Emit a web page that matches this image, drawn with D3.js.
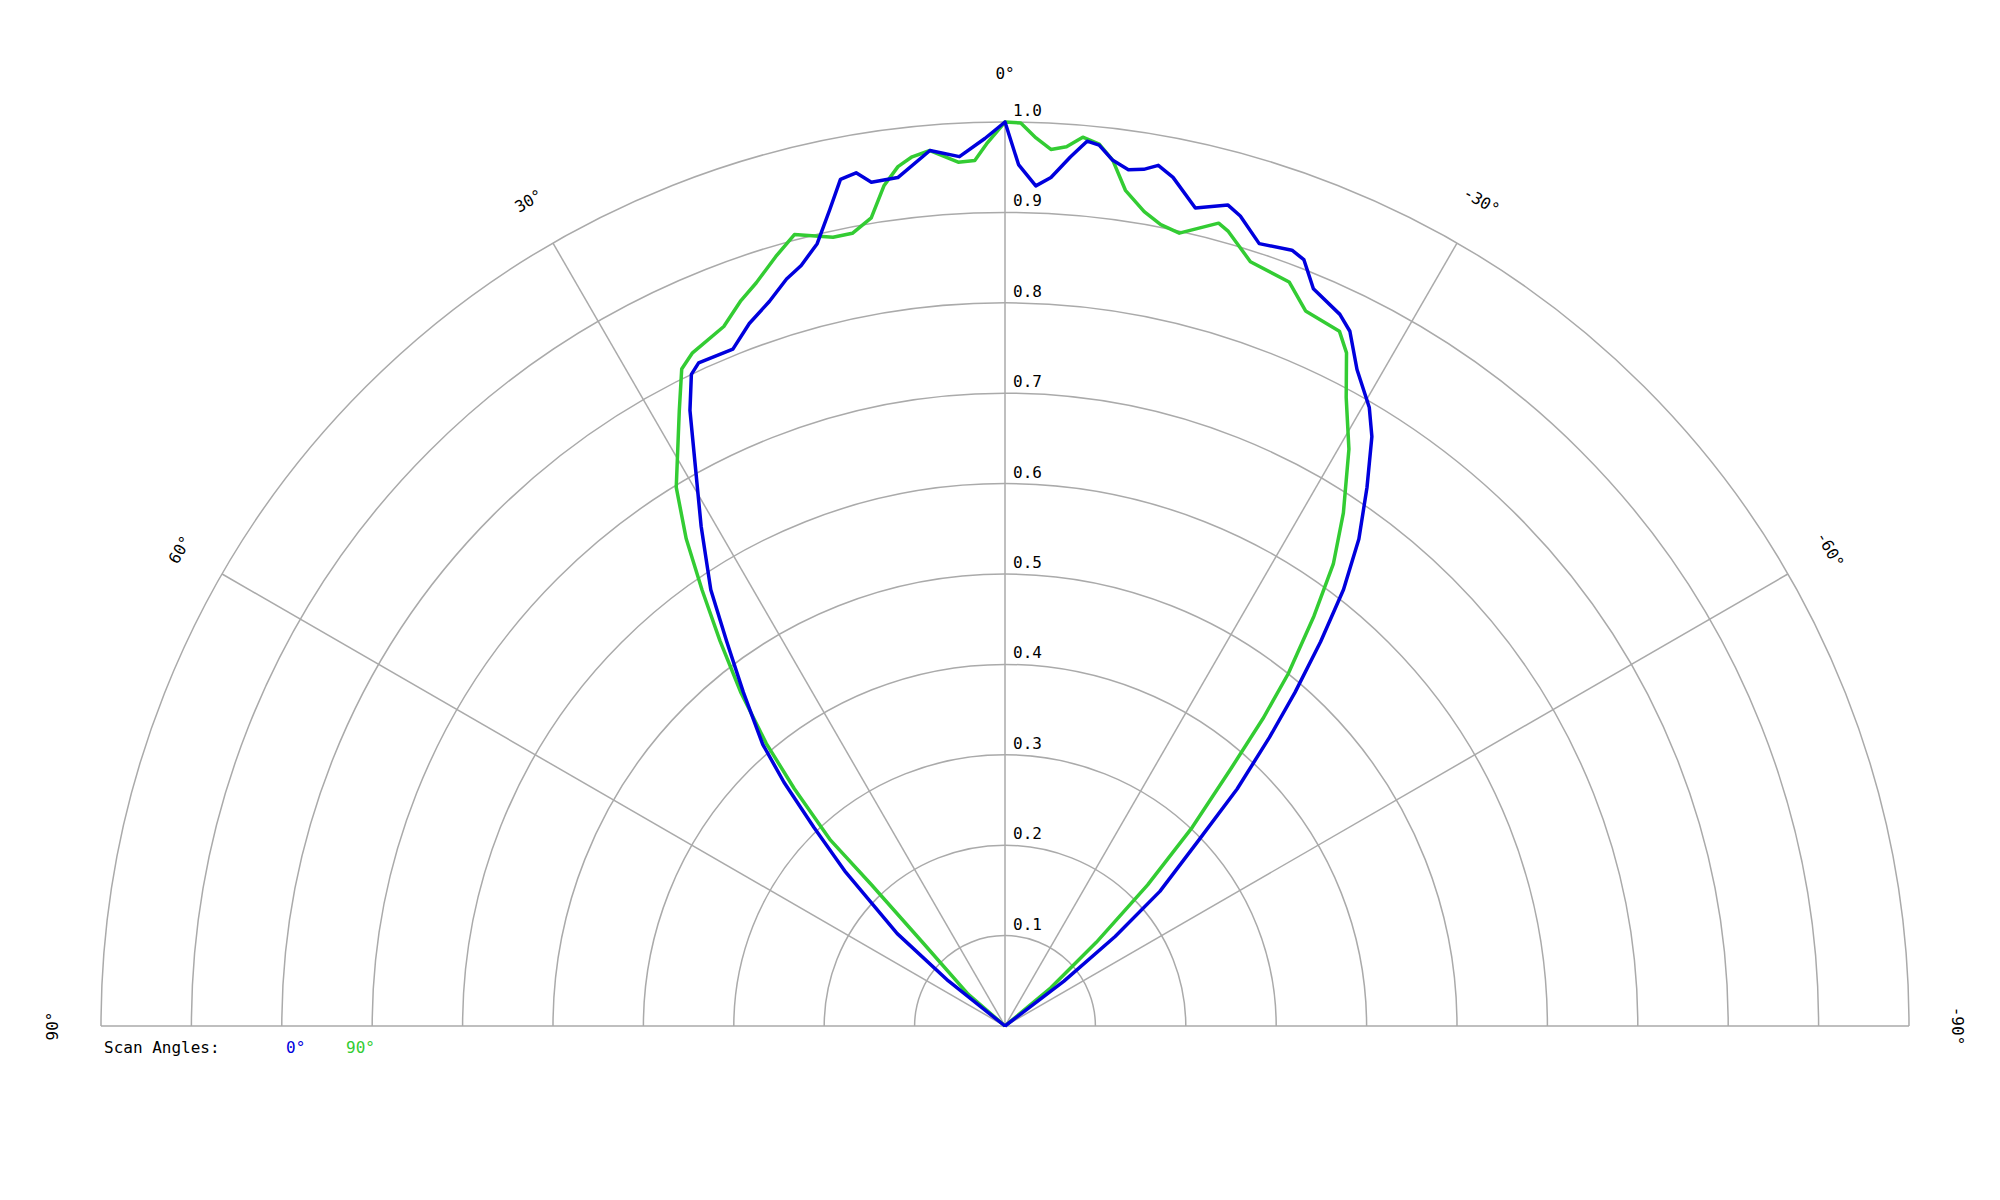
<!DOCTYPE html>
<html>
<head>
<meta charset="utf-8">
<script src="https://cdn.jsdelivr.net/npm/d3@7"></script>
<style>
body { margin: 0; background: #fff; }
text { font-family: "DejaVu Sans Mono", "Liberation Mono", monospace; font-size: 16px; }
</style>
</head>
<body>
<div id="chart"></div>
<script>
var width = 2000, height = 1200;
var cx = 1005, cy = 1026, R = 904;

// scan angle (deg, positive to the left) and normalised amplitude
var blueAngles = [-90, -60, -52.7, -50.9, -49.0, -46.2, -44.4, -42.5, -41.0, -39.4, -37.8, -36.0, -33.9, -31.9, -30.5, -28.2, -26.4, -25.2, -22.7, -21.3, -20.3, -18.0, -16.2, -15.2, -13.1, -11.2, -10.1, -9.2, -8.2, -7.1, -6.1, -5.3, -4.3, -3.1, -2.1, -0.9, 0, 1.3, 3.0, 4.9, 7.2, 9.0, 9.9, 11.0, 12.1, 13.5, 15.0, 16.3, 18.0, 20.0, 21.9, 24.8, 25.7, 27.1, 28.8, 31.3, 34.0, 35.9, 38.1, 40.7, 42.2, 43.9, 46.0, 49.4, 51.5, 60, 90];
var blueValues = [0, 0, 0.082, 0.157, 0.227, 0.297, 0.367, 0.433, 0.489, 0.550, 0.611, 0.666, 0.718, 0.768, 0.794, 0.824, 0.858, 0.870, 0.884, 0.910, 0.915, 0.910, 0.933, 0.941, 0.929, 0.957, 0.967, 0.960, 0.957, 0.965, 0.980, 0.983, 0.964, 0.940, 0.930, 0.953, 1.0, 0.982, 0.963, 0.972, 0.946, 0.945, 0.958, 0.954, 0.924, 0.890, 0.871, 0.861, 0.843, 0.827, 0.807, 0.808, 0.800, 0.765, 0.712, 0.647, 0.582, 0.525, 0.469, 0.411, 0.364, 0.305, 0.245, 0.157, 0.080, 0, 0];
var greenAngles = [-90, -60, -50.2, -47.5, -45.3, -43.3, -41.3, -40.0, -38.8, -37.0, -35.4, -33.4, -30.8, -28.5, -26.9, -25.7, -22.8, -20.9, -17.8, -15.7, -14.9, -12.4, -11.0, -9.7, -8.2, -7.1, -6.1, -5.0, -4.0, -3.0, -2.0, -1.0, 0, 1.2, 2.0, 3.1, 4.9, 6.1, 7.1, 8.2, 9.4, 10.9, 12.3, 14.9, 16.6, 18.5, 20.0, 21.9, 24.9, 26.2, 27.9, 31.4, 33.2, 34.8, 36.5, 38.4, 40.2, 41.6, 43.2, 43.4, 44.6, 49.2, 60, 90];
var greenValues = [0, 0, 0.066, 0.137, 0.222, 0.302, 0.378, 0.444, 0.500, 0.568, 0.627, 0.680, 0.743, 0.791, 0.835, 0.853, 0.858, 0.881, 0.888, 0.913, 0.919, 0.898, 0.903, 0.914, 0.934, 0.965, 0.981, 0.987, 0.975, 0.971, 0.983, 0.999, 1.0, 0.976, 0.958, 0.957, 0.972, 0.967, 0.958, 0.939, 0.906, 0.893, 0.893, 0.906, 0.888, 0.867, 0.854, 0.834, 0.821, 0.810, 0.770, 0.698, 0.644, 0.587, 0.530, 0.470, 0.409, 0.351, 0.282, 0.215, 0.129, 0.054, 0, 0];
var ringValues = [0.1, 0.2, 0.3, 0.4, 0.5, 0.6, 0.7, 0.8, 0.9, 1.0];
var spokeAngles = [-90, -60, -30, 0, 30, 60, 90];

var r = d3.scaleLinear().domain([0, 1]).range([0, R]);
var toRad = function (deg) { return -deg * Math.PI / 180; };

var svg = d3.select("#chart").append("svg")
    .attr("width", width).attr("height", height);
var g = svg.append("g").attr("transform", "translate(" + cx + "," + cy + ")");

// rings
var ringArc = d3.arc().innerRadius(d => r(d)).outerRadius(d => r(d))
    .startAngle(-Math.PI / 2).endAngle(Math.PI / 2);
g.selectAll(".ring").data(ringValues).enter().append("path")
    .attr("d", ringArc)
    .attr("fill", "none").attr("stroke", "#aaa").attr("stroke-width", 1.5);

// spokes
g.selectAll(".spoke").data(spokeAngles).enter().append("line")
    .attr("x1", 0).attr("y1", 0)
    .attr("x2", d => r(1) * Math.sin(toRad(d)))
    .attr("y2", d => -r(1) * Math.cos(toRad(d)))
    .attr("stroke", "#aaa").attr("stroke-width", 1.5);

// ring labels
g.selectAll(".rlabel").data(ringValues).enter().append("text")
    .attr("x", 8).attr("y", d => -r(d) - 6)
    .text(d => d.toFixed(1));

// angle labels
g.selectAll(".alabel").data(spokeAngles).enter().append("text")
    .attr("text-anchor", "middle")
    .attr("dy", "0.35em")
    .attr("transform", function (d) {
        var a = toRad(d), rr = r(1) * 1.054;
        return "translate(" + (rr * Math.sin(a)) + "," + (-rr * Math.cos(a)) + ") rotate(" + (-d) + ")";
    })
    .text(d => d + "°");

// curves
var line = d3.lineRadial().angle(d => toRad(d[0])).radius(d => r(d[1]));
var series = [
    { angles: blueAngles, values: blueValues, color: "#0000dd" },
    { angles: greenAngles, values: greenValues, color: "#33cc33" }
];
series.slice().reverse().forEach(function (s) {
    g.append("path")
        .datum(s.angles.map((a, i) => [a, s.values[i]]))
        .attr("d", line)
        .attr("fill", "none").attr("stroke", s.color).attr("stroke-width", 3.5)
        .attr("stroke-linejoin", "round");
});

// legend
var legend = svg.append("text").attr("x", 104).attr("y", 1053);
legend.append("tspan").attr("fill", "#000").text("Scan Angles:");
legend.append("tspan").attr("x", 286).attr("fill", "#0000dd").text("0°");
legend.append("tspan").attr("x", 346).attr("fill", "#33cc33").text("90°");
</script>
</body>
</html>
